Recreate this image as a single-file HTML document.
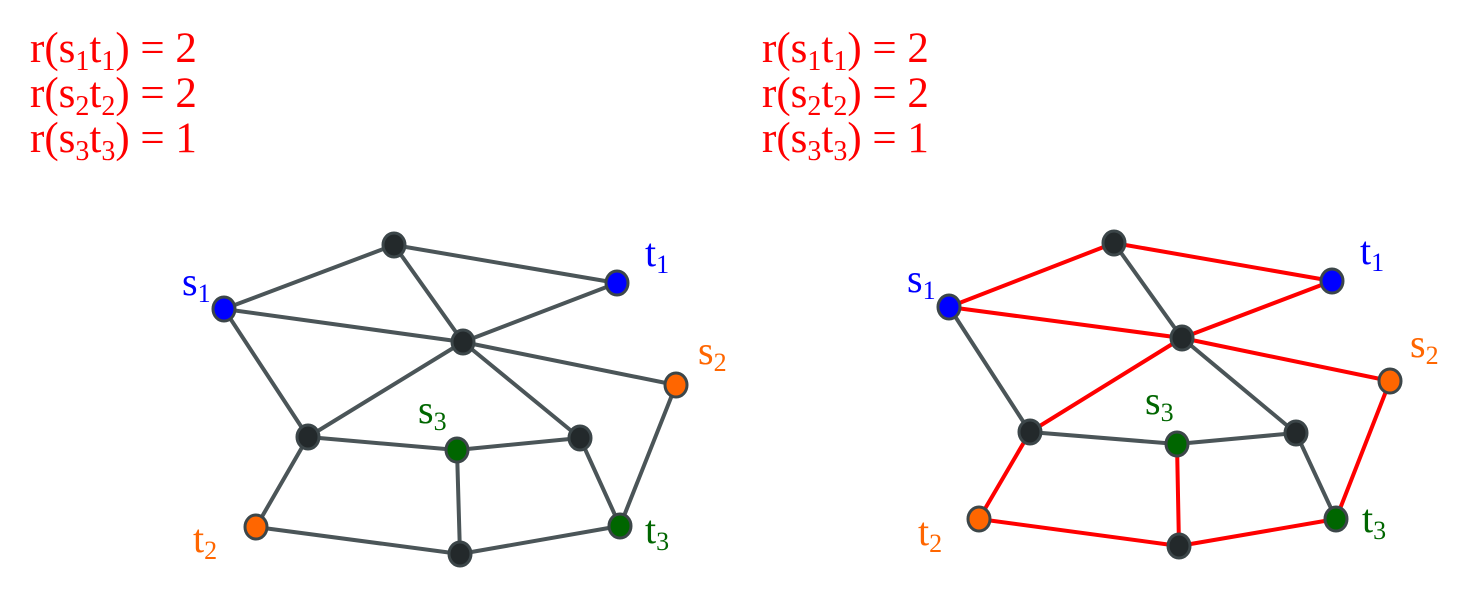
<!DOCTYPE html>
<html><head><meta charset="utf-8"><style>
html,body{margin:0;padding:0;background:#fff;width:1470px;height:609px;overflow:hidden}
svg{display:block}
</style></head><body>
<svg width="1470" height="609" viewBox="0 0 1470 609" xmlns="http://www.w3.org/2000/svg" font-family="Liberation Serif, DejaVu Serif, serif">
<g fill="#ff0000" font-size="43" font-family="Liberation Serif, serif">
<text x="30" y="62">r(s<tspan font-size="28" dy="8">1</tspan><tspan dy="-8">t</tspan><tspan font-size="28" dy="8">1</tspan><tspan dy="-8">) = 2</tspan></text>
<text x="30" y="107">r(s<tspan font-size="28" dy="8">2</tspan><tspan dy="-8">t</tspan><tspan font-size="28" dy="8">2</tspan><tspan dy="-8">) = 2</tspan></text>
<text x="30" y="152">r(s<tspan font-size="28" dy="8">3</tspan><tspan dy="-8">t</tspan><tspan font-size="28" dy="8">3</tspan><tspan dy="-8">) = 1</tspan></text>
<text x="762" y="62">r(s<tspan font-size="28" dy="8">1</tspan><tspan dy="-8">t</tspan><tspan font-size="28" dy="8">1</tspan><tspan dy="-8">) = 2</tspan></text>
<text x="762" y="107">r(s<tspan font-size="28" dy="8">2</tspan><tspan dy="-8">t</tspan><tspan font-size="28" dy="8">2</tspan><tspan dy="-8">) = 2</tspan></text>
<text x="762" y="152">r(s<tspan font-size="28" dy="8">3</tspan><tspan dy="-8">t</tspan><tspan font-size="28" dy="8">3</tspan><tspan dy="-8">) = 1</tspan></text>
</g>
<g stroke="#4b5558" stroke-width="4" stroke-linecap="round">
<line x1="224" y1="309" x2="394" y2="245"/>
<line x1="394" y1="245" x2="617" y2="283"/>
<line x1="394" y1="245" x2="463" y2="342"/>
<line x1="463" y1="342" x2="617" y2="283"/>
<line x1="224" y1="309" x2="463" y2="342"/>
<line x1="463" y1="342" x2="676" y2="385"/>
<line x1="224" y1="309" x2="308" y2="437"/>
<line x1="308" y1="437" x2="463" y2="342"/>
<line x1="463" y1="342" x2="580" y2="438"/>
<line x1="308" y1="437" x2="457" y2="450"/>
<line x1="457" y1="450" x2="580" y2="438"/>
<line x1="308" y1="437" x2="256" y2="527"/>
<line x1="256" y1="527" x2="460" y2="554"/>
<line x1="460" y1="554" x2="620" y2="526"/>
<line x1="457" y1="450" x2="460" y2="554"/>
<line x1="580" y1="438" x2="620" y2="526"/>
<line x1="676" y1="385" x2="620" y2="526"/>
</g>
<g stroke-width="4" stroke-linecap="round">
<g stroke="#4b5558">
<line x1="1114" y1="243" x2="1182" y2="338"/>
<line x1="949" y1="307" x2="1030" y2="432"/>
<line x1="1030" y1="432" x2="1177" y2="444"/>
<line x1="1177" y1="444" x2="1296" y2="433"/>
<line x1="1182" y1="338" x2="1296" y2="433"/>
<line x1="1296" y1="433" x2="1336" y2="519"/>
</g>
<g stroke="#ff0000">
<line x1="949" y1="307" x2="1114" y2="243"/>
<line x1="1114" y1="243" x2="1332" y2="281"/>
<line x1="1182" y1="338" x2="1332" y2="281"/>
<line x1="949" y1="307" x2="1182" y2="338"/>
<line x1="1182" y1="338" x2="1390" y2="381"/>
<line x1="1182" y1="338" x2="1030" y2="432"/>
<line x1="1030" y1="432" x2="979" y2="519"/>
<line x1="979" y1="519" x2="1179" y2="546"/>
<line x1="1179" y1="546" x2="1336" y2="519"/>
<line x1="1390" y1="381" x2="1336" y2="519"/>
<line x1="1177" y1="444" x2="1179" y2="546"/>
</g>
</g>
<g stroke="#3c4649" stroke-width="3">
<g fill="#23292b">
<ellipse cx="394" cy="245" rx="11" ry="12"/>
<ellipse cx="463" cy="342" rx="11" ry="12"/>
<ellipse cx="308" cy="437" rx="11" ry="12"/>
<ellipse cx="580" cy="438" rx="11" ry="12"/>
<ellipse cx="460" cy="554" rx="11" ry="12"/>
<ellipse cx="1114" cy="243" rx="11" ry="12"/>
<ellipse cx="1182" cy="338" rx="11" ry="12"/>
<ellipse cx="1030" cy="432" rx="11" ry="12"/>
<ellipse cx="1296" cy="433" rx="11" ry="12"/>
<ellipse cx="1179" cy="546" rx="11" ry="12"/>
</g>
<g fill="#0000ff">
<ellipse cx="224" cy="309" rx="11" ry="12"/>
<ellipse cx="617" cy="283" rx="11" ry="12"/>
<ellipse cx="949" cy="307" rx="11" ry="12"/>
<ellipse cx="1332" cy="281" rx="11" ry="12"/>
</g>
<g fill="#ff6600">
<ellipse cx="676" cy="385" rx="11" ry="12"/>
<ellipse cx="256" cy="527" rx="11" ry="12"/>
<ellipse cx="1390" cy="381" rx="11" ry="12"/>
<ellipse cx="979" cy="519" rx="11" ry="12"/>
</g>
<g fill="#006600">
<ellipse cx="457" cy="450" rx="11" ry="12"/>
<ellipse cx="620" cy="526" rx="11" ry="12"/>
<ellipse cx="1177" cy="444" rx="11" ry="12"/>
<ellipse cx="1336" cy="519" rx="11" ry="12"/>
</g>
</g>
<g font-size="40" font-family="Liberation Serif, serif">
<text x="182" y="295" fill="#0000ff">s<tspan font-size="26" dy="7">1</tspan></text>
<text x="645" y="266" fill="#0000ff">t<tspan font-size="26" dy="7">1</tspan></text>
<text x="698" y="364" fill="#ff6600">s<tspan font-size="26" dy="7">2</tspan></text>
<text x="418" y="423" fill="#006600">s<tspan font-size="26" dy="7">3</tspan></text>
<text x="193" y="552" fill="#ff6600">t<tspan font-size="26" dy="7">2</tspan></text>
<text x="645" y="543" fill="#006600">t<tspan font-size="26" dy="7">3</tspan></text>
<text x="907" y="292" fill="#0000ff">s<tspan font-size="26" dy="7">1</tspan></text>
<text x="1360" y="264" fill="#0000ff">t<tspan font-size="26" dy="7">1</tspan></text>
<text x="1410" y="357" fill="#ff6600">s<tspan font-size="26" dy="7">2</tspan></text>
<text x="1145" y="414" fill="#006600">s<tspan font-size="26" dy="7">3</tspan></text>
<text x="918" y="545" fill="#ff6600">t<tspan font-size="26" dy="7">2</tspan></text>
<text x="1362" y="532" fill="#006600">t<tspan font-size="26" dy="7">3</tspan></text>
</g>
</svg>
</body></html>
